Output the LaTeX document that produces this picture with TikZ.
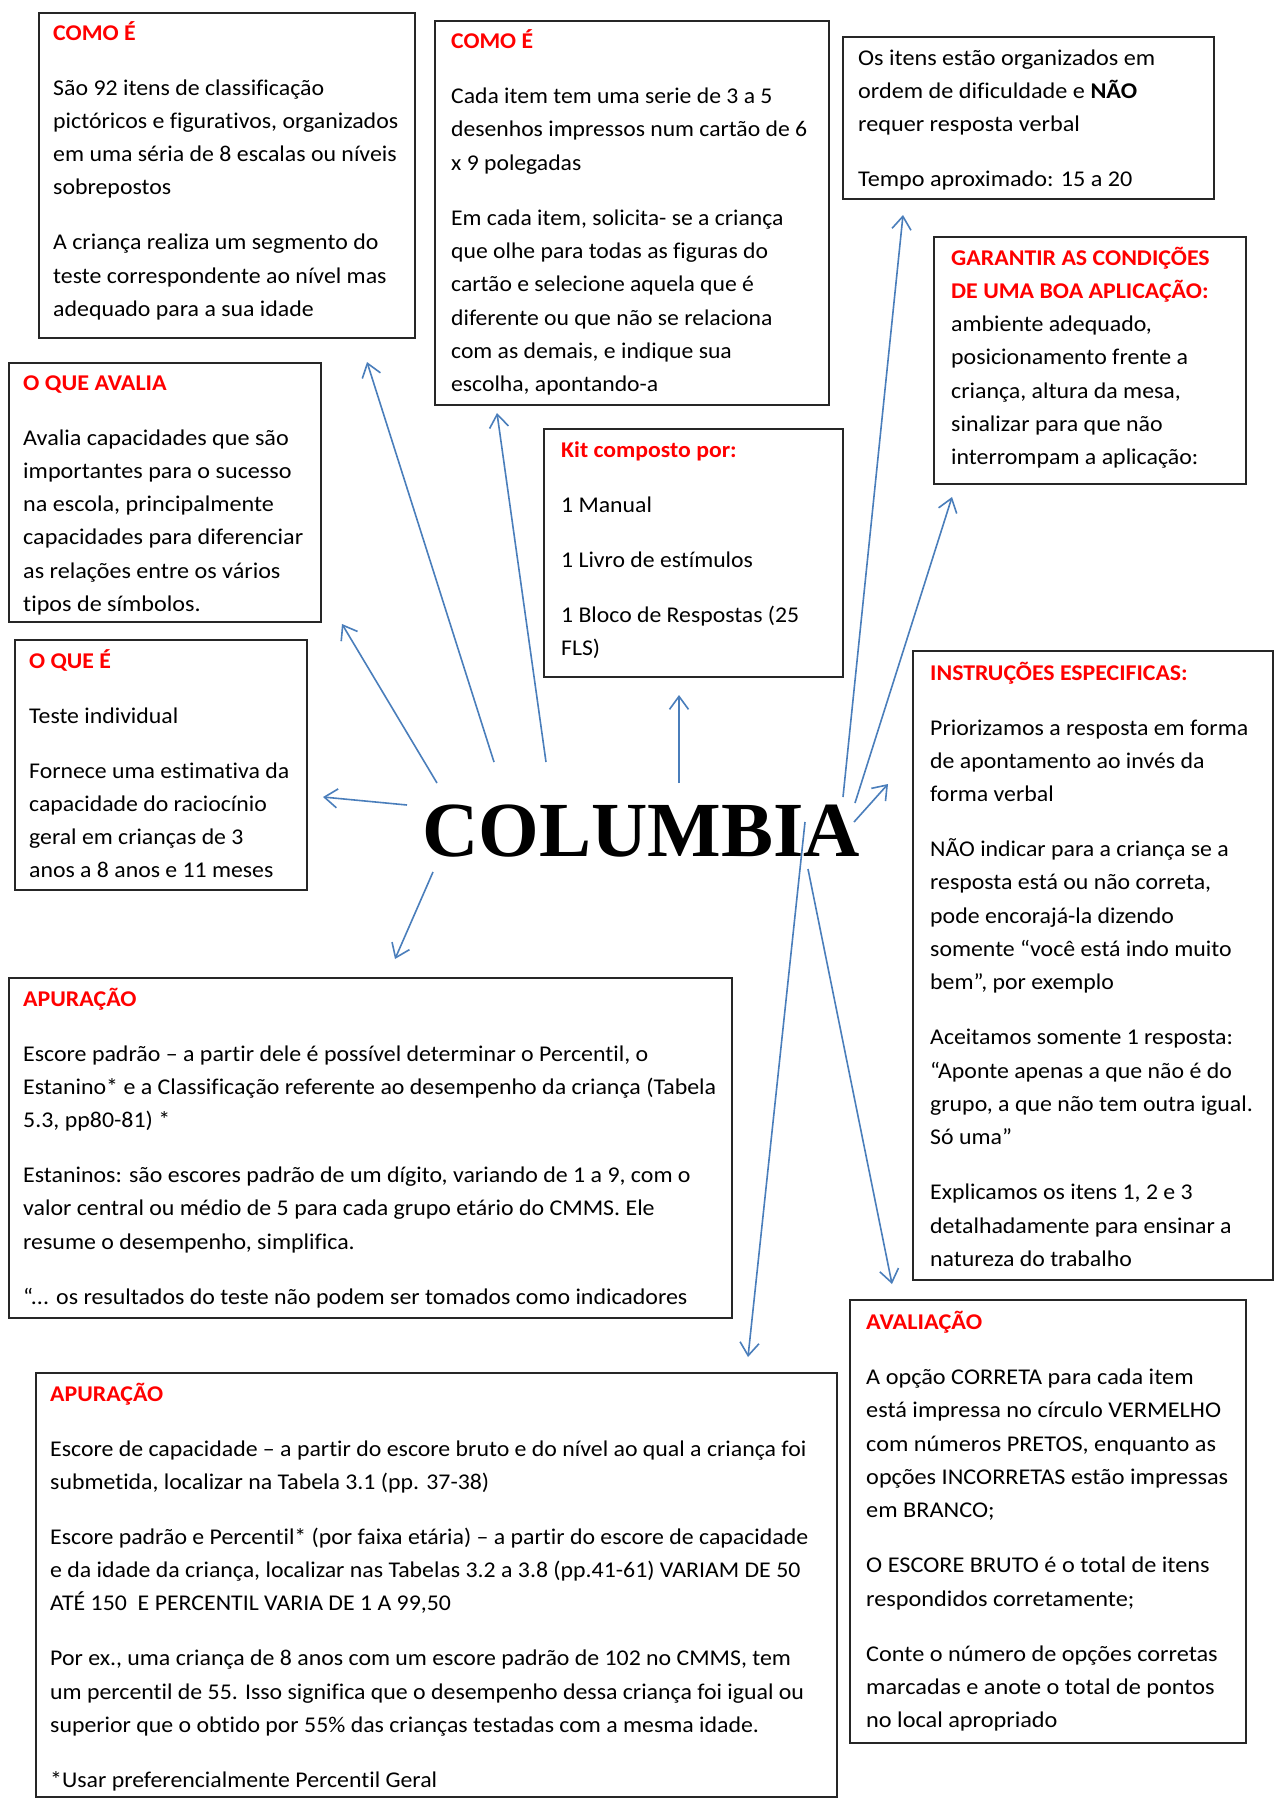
\documentclass[tikz,border=0pt]{standalone}
\usepackage{fontspec}
\setmainfont{Carlito}[Ligatures={NoCommon,NoRare,NoContextual}]
\newfontfamily\colfont{Liberation Serif}
\usepackage{graphicx}
\usetikzlibrary{arrows.meta}
\definecolor{titred}{RGB}{255,0,0}
\definecolor{arrblue}{RGB}{74,126,187}
\newlength\reflen
\newcommand\fitw[3]{\settowidth\reflen{#2}\edef\myfac{\fpeval{#1/\reflen}}\scalebox{\myfac}[1]{#3}}
\newcommand\ttl[1]{\textbf{\color{titred}#1}}
\newcommand\pgap{\\[21.7pt]}
\newcommand\mkbox[5]{\node[boxst, anchor=north west, minimum width=\fpeval{#4-#2}pt, minimum height=\fpeval{#5-#3}pt] (#1) at (#2,#3) {};}
\tikzset{
  boxst/.style={draw=black!85, line width=1.8pt, inner sep=0pt, fill=white},
  txt/.style={inner sep=0pt, anchor=base west, font=\fontsize{22.5}{33.3}\selectfont},
  arr/.style={draw=arrblue, line width=1.6pt, -{Straight Barb[length=13pt,width=19pt]}}
}
\begin{document}
\begin{tikzpicture}[x=1pt,y=-1pt]
\useasboundingbox (0,0) rectangle (1280,1810);
\fill[white] (0,0) rectangle (1280,1810);

% boxes
\mkbox{bA}{38}{12}{414}{337}
\mkbox{bB}{434}{20}{828}{404}
\mkbox{bC}{842}{36}{1213}{198}
\mkbox{bD}{933}{236}{1245}{483}
\mkbox{bE}{8}{362}{320}{621}
\mkbox{bF}{543}{428}{842}{676}
\mkbox{bG}{14}{639}{306}{889}
\mkbox{bH}{912}{650}{1272}{1279}
\mkbox{bI}{8}{977}{731}{1317}
\mkbox{bJ}{849}{1299}{1245}{1742}
\mkbox{bK}{35}{1372}{836}{1796}

% texts
\node[txt] (tA) at (53,40) {\fitw{345pt}{pictóricos e figurativos, organizados}{\begin{tabular}[t]{@{}l@{}}
\ttl{COMO É}\pgap
São 92 itens de classificação\\
pictóricos e figurativos, organizados\\
em uma séria de 8 escalas ou níveis\\
sobrepostos\pgap
A criança realiza um segmento do\\
teste correspondente ao nível mas\\
adequado para a sua idade
\end{tabular}}};

\node[txt] (tB) at (451,48.5) {\fitw{356pt}{desenhos impressos num cartão de 6}{\begin{tabular}[t]{@{}l@{}}
\ttl{COMO É}\pgap
Cada item tem uma serie de 3 a 5\\
desenhos impressos num cartão de 6\\
x 9 polegadas\pgap
Em cada item, solicita- se a criança\\
que olhe para todas as figuras do\\
cartão e selecione aquela que é\\
diferente ou que não se relaciona\\
com as demais, e indique sua\\
escolha, apontando-a
\end{tabular}}};

\node[txt] (tC) at (858,65) {\fitw{297pt}{Os itens estão organizados em}{\begin{tabular}[t]{@{}l@{}}
Os itens estão organizados em\\
ordem de dificuldade e \textbf{NÃO}\\
requer resposta verbal\pgap
Tempo aproximado: 15 a 20
\end{tabular}}};

\node[txt] (tD) at (951,265) {\fitw{237pt}{posicionamento frente a}{\begin{tabular}[t]{@{}l@{}}
\ttl{GARANTIR AS CONDIÇÕES}\\
\ttl{DE UMA BOA APLICAÇÃO:}\\
ambiente adequado,\\
posicionamento frente a\\
criança, altura da mesa,\\
sinalizar para que não\\
interrompam a aplicação:
\end{tabular}}};

\node[txt] (tE) at (23,390) {\fitw{280pt}{capacidades para diferenciar}{\begin{tabular}[t]{@{}l@{}}
\ttl{O QUE AVALIA}\pgap
Avalia capacidades que são\\
importantes para o sucesso\\
na escola, principalmente\\
capacidades para diferenciar\\
as relações entre os vários\\
tipos de símbolos.
\end{tabular}}};

\node[txt] (tF) at (561,457) {\fitw{238pt}{1 Bloco de Respostas (25}{\begin{tabular}[t]{@{}l@{}}
\ttl{Kit composto por:}\pgap
1 Manual\pgap
1 Livro de estímulos\pgap
1 Bloco de Respostas (25\\
FLS)
\end{tabular}}};

\node[txt] (tG) at (29,668) {\fitw{260pt}{Fornece uma estimativa da}{\begin{tabular}[t]{@{}l@{}}
\ttl{O QUE É}\pgap
Teste individual\pgap
Fornece uma estimativa da\\
capacidade do raciocínio\\
geral em crianças de 3\\
anos a 8 anos e 11 meses
\end{tabular}}};

\node[txt] (tH) at (930,680) {\fitw{318pt}{Priorizamos a resposta em forma}{\begin{tabular}[t]{@{}l@{}}
\ttl{INSTRUÇÕES ESPECIFICAS:}\pgap
Priorizamos a resposta em forma\\
de apontamento ao invés da\\
forma verbal\pgap
NÃO indicar para a criança se a\\
resposta está ou não correta,\\
pode encorajá-la dizendo\\
somente “você está indo muito\\
bem”, por exemplo\pgap
Aceitamos somente 1 resposta:\\
“Aponte apenas a que não é do\\
grupo, a que não tem outra igual.\\
Só uma”\pgap
Explicamos os itens 1, 2 e 3\\
detalhadamente para ensinar a\\
natureza do trabalho
\end{tabular}}};

\node[txt] (tI) at (23,1006) {\fitw{693pt}{Estanino* e a Classificação referente ao desempenho da criança (Tabela}{\begin{tabular}[t]{@{}l@{}}
\ttl{APURAÇÃO}\pgap
Escore padrão – a partir dele é possível determinar o Percentil, o\\
Estanino* e a Classificação referente ao desempenho da criança (Tabela\\
5.3, pp80-81) *\pgap
Estaninos: são escores padrão de um dígito, variando de 1 a 9, com o\\
valor central ou médio de 5 para cada grupo etário do CMMS. Ele\\
resume o desempenho, simplifica.\pgap
“... os resultados do teste não podem ser tomados como indicadores
\end{tabular}}};

\node[txt] (tJ) at (866,1329.5) {\fitw{362pt}{opções INCORRETAS estão impressas}{\begin{tabular}[t]{@{}l@{}}
\ttl{AVALIAÇÃO}\pgap
A opção CORRETA para cada item\\
está impressa no círculo VERMELHO\\
com números PRETOS, enquanto as\\
opções INCORRETAS estão impressas\\
em BRANCO;\pgap
O ESCORE BRUTO é o total de itens\\
respondidos corretamente;\pgap
Conte o número de opções corretas\\
marcadas e anote o total de pontos\\
no local apropriado
\end{tabular}}};

\begin{scope}
\clip ([shift={(1pt,-1pt)}]bK.north west) rectangle ([shift={(-1pt,3pt)}]bK.south east);
\node[txt] (tK) at (50,1401) {\fitw{758pt}{Escore padrão e Percentil* (por faixa etária) – a partir do escore de capacidade}{\begin{tabular}[t]{@{}l@{}}
\ttl{APURAÇÃO}\pgap
Escore de capacidade – a partir do escore bruto e do nível ao qual a criança foi\\
submetida, localizar na Tabela 3.1 (pp. 37-38)\pgap
Escore padrão e Percentil* (por faixa etária) – a partir do escore de capacidade\\
e da idade da criança, localizar nas Tabelas 3.2 a 3.8 (pp.41-61) VARIAM DE 50\\
ATÉ 150 \ E PERCENTIL VARIA DE 1 A 99,50\pgap
Por ex., uma criança de 8 anos com um escore padrão de 102 no CMMS, tem\\
um percentil de 55. Isso significa que o desempenho dessa criança foi igual ou\\
superior que o obtido por 55\% das crianças testadas com a mesma idade.\pgap
*Usar preferencialmente Percentil Geral
\end{tabular}}};
\end{scope}

% centre title
\node[inner sep=0pt, anchor=base, font=\colfont\bfseries\fontsize{78}{78}\selectfont] (col) at (641,856) {COLUMBIA};

% arrows
\coordinate (s1) at (494,762); \coordinate (e1) at (367,362);
\coordinate (s2) at (546,762); \coordinate (e2) at (497,413);
\coordinate (s3) at (679,783); \coordinate (e3) at (679,695);
\coordinate (s4) at (843,797); \coordinate (e4) at (903,215);
\coordinate (s5) at (855,803); \coordinate (e5) at (952,497);
\coordinate (s6) at (854,822); \coordinate (e6) at (888,784);
\coordinate (s7) at (433,872); \coordinate (e7) at (395,959);
\coordinate (s8) at (407,805); \coordinate (e8) at (323,797);
\coordinate (s9) at (437,783); \coordinate (e9) at (342,624);
\coordinate (s10) at (805,822); \coordinate (e10) at (748,1357);
\coordinate (s11) at (808,869); \coordinate (e11) at (892,1284);
\foreach \i in {1,...,11} { \draw[arr] (s\i) -- (e\i); }
\end{tikzpicture}
\end{document}
